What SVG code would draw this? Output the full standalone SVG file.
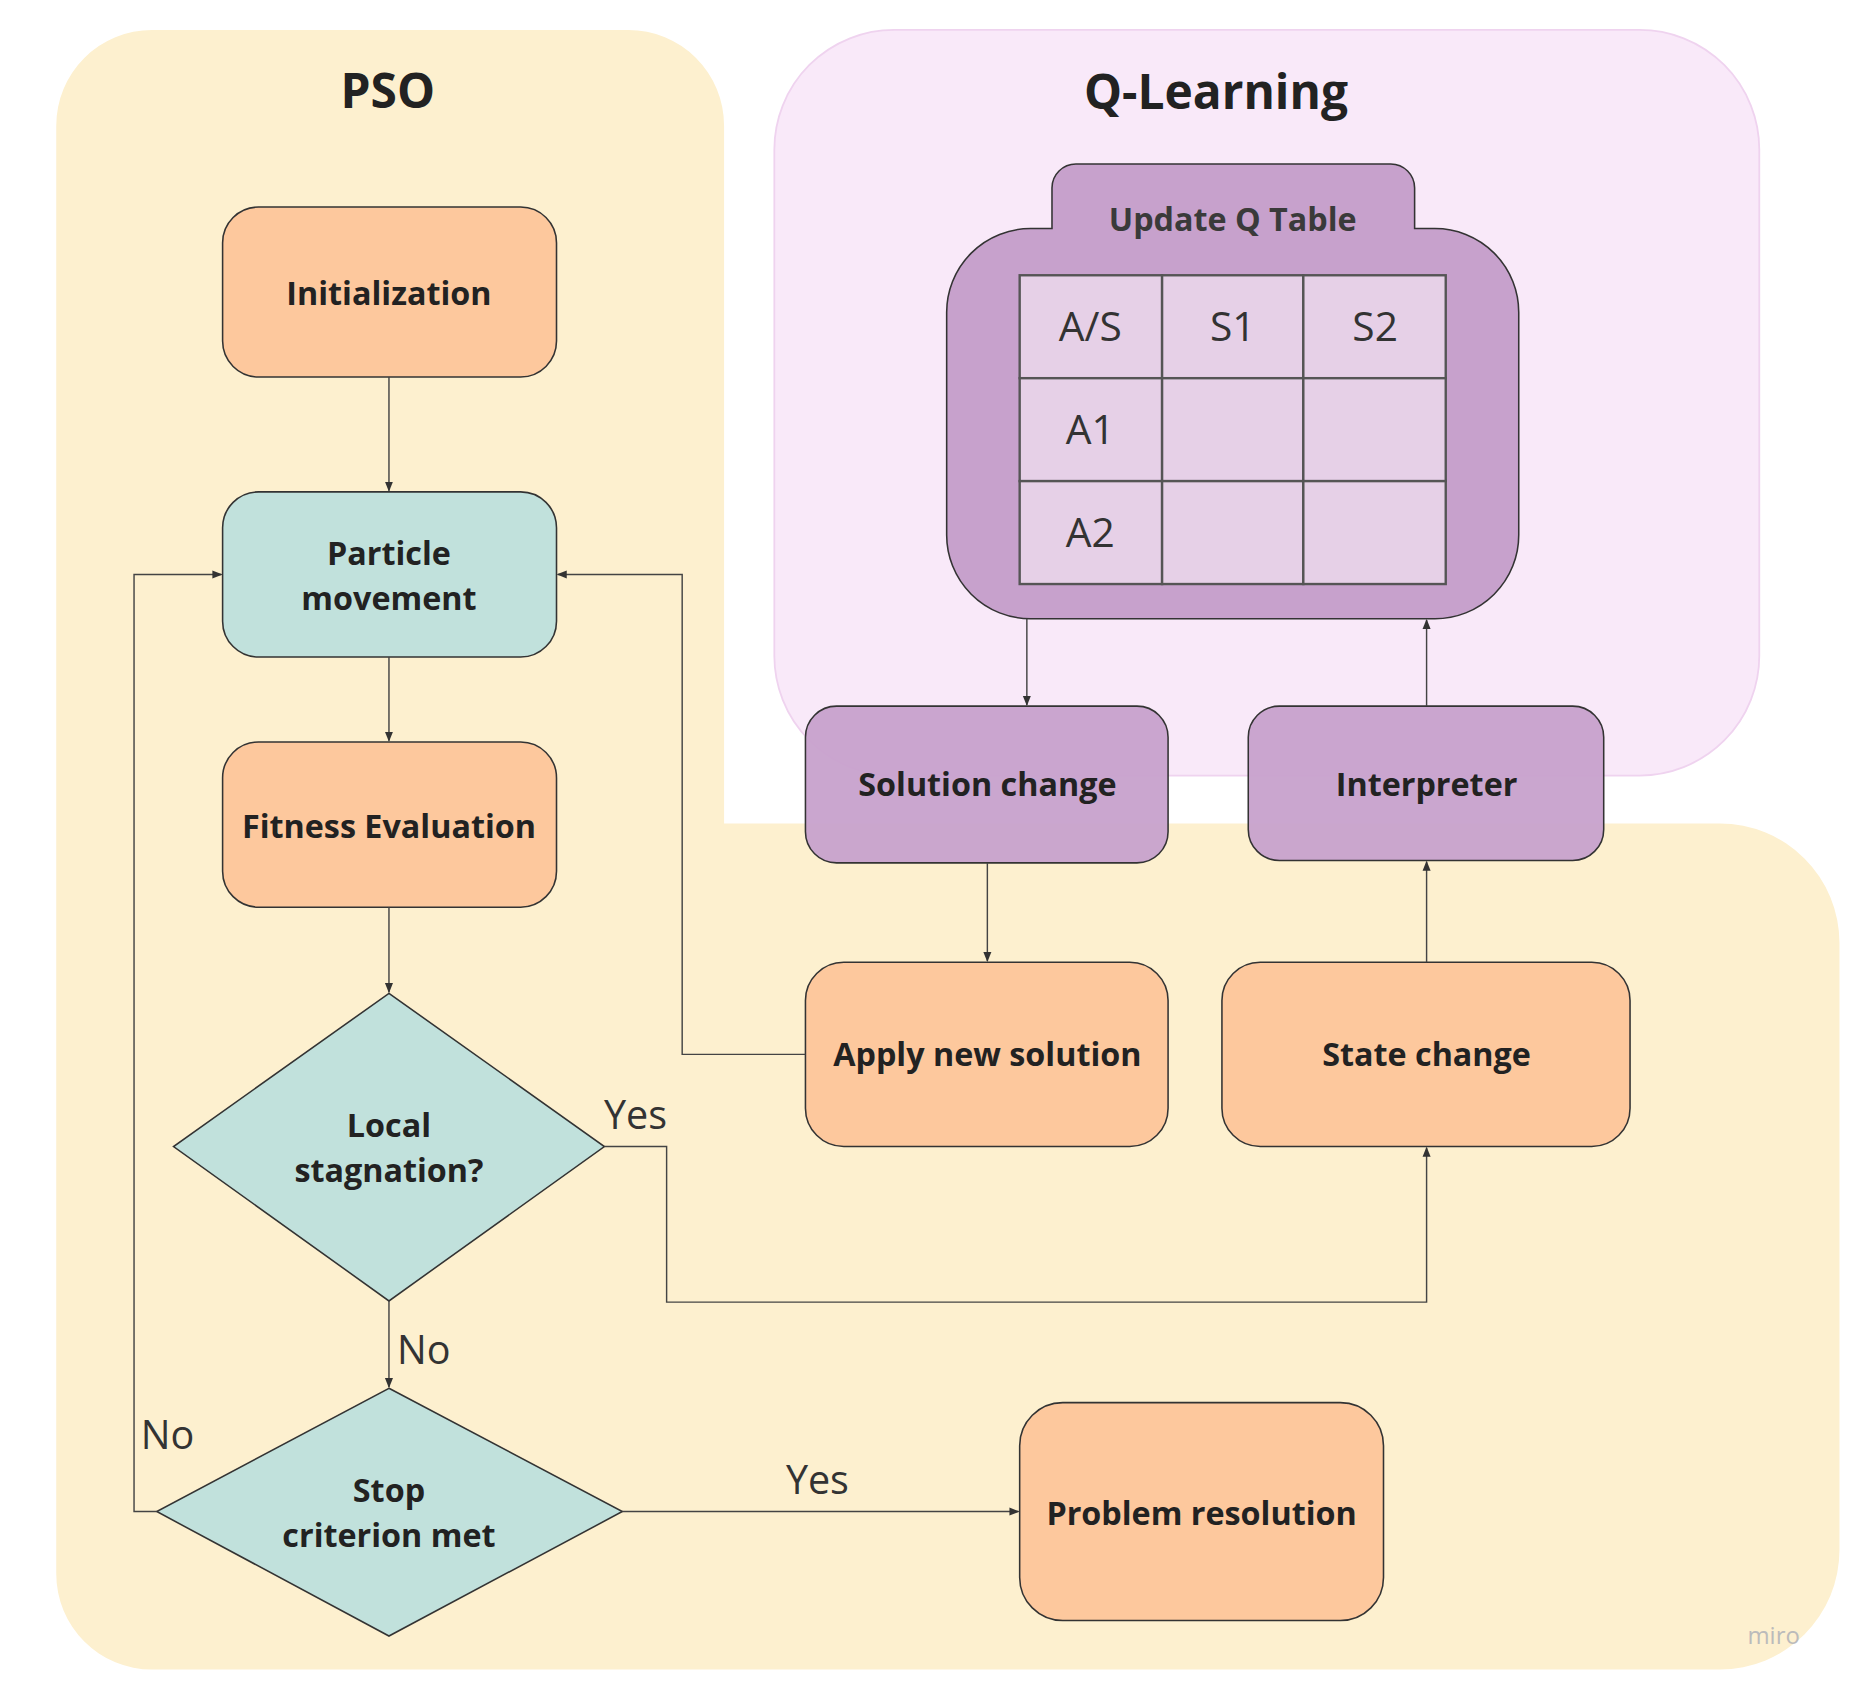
<svg xmlns="http://www.w3.org/2000/svg" width="1855" height="1681" viewBox="0 0 1855 1681">
<defs>
<style>
.n{stroke:#333;stroke-width:1.3}
.o{fill:#fdc89d}.t{fill:#c1e1dc}.p{fill:#c7a1cc}
.l{font-family:"Open Sans","Noto Sans",sans-serif;font-weight:bold;font-size:27px;fill:#222;text-anchor:middle}
.r{font-family:"Open Sans","Noto Sans",sans-serif;font-size:34px;fill:#333;text-anchor:middle}
.c{fill:none;stroke:#444;stroke-width:1.2}
.cell{fill:#e6d0e7;stroke:#555;stroke-width:2}
</style>
<marker id="a" viewBox="0 0 10 10" refX="9" refY="5" markerWidth="7" markerHeight="7" orient="auto"><path d="M0,1 L10,5 L0,9 z" fill="#333"/></marker>
</defs>
<rect width="1855" height="1681" fill="#fff"/>
<g transform="scale(1.1968)">
<g id="bg">
<path d="M127,25 H525 A80,80 0 0 1 605,105 V688 H1437 A100,100 0 0 1 1537,788 V1295 A100,100 0 0 1 1437,1395 H127 A80,80 0 0 1 47,1315 V105 A80,80 0 0 1 127,25 Z" fill="#fdf0cf"/>
<rect x="647" y="25" width="823" height="623" rx="100" fill="#f9e9f9" stroke="#efd3ef" stroke-width="1.5"/>
<text x="324" y="90" class="l" style="font-size:40px">PSO</text>
<text x="1016" y="91" class="l" style="font-size:40px">Q-Learning</text>
<text x="1482" y="1374" style="font-family:'Open Sans',sans-serif;font-size:20px;fill:#bbb;text-anchor:middle">miro</text>
</g>
<g id="qtable">
<path d="M899,137 H1162 A20,20 0 0 1 1182,157 V191 H1199 A70,70 0 0 1 1269,261 V447 A70,70 0 0 1 1199,517 H861 A70,70 0 0 1 791,447 V261 A70,70 0 0 1 861,191 H879 V157 A20,20 0 0 1 899,137 Z" fill="#c7a1cc" stroke="#333" stroke-width="1.3"/>
<text x="1030" y="193" class="l" style="fill:#3a3a3a">Update Q Table</text>
<rect class="cell" x="852" y="230" width="119" height="86"/><rect class="cell" x="971" y="230" width="118" height="86"/><rect class="cell" x="1089" y="230" width="119" height="86"/>
<rect class="cell" x="852" y="316" width="119" height="86"/><rect class="cell" x="971" y="316" width="118" height="86"/><rect class="cell" x="1089" y="316" width="119" height="86"/>
<rect class="cell" x="852" y="402" width="119" height="86"/><rect class="cell" x="971" y="402" width="118" height="86"/><rect class="cell" x="1089" y="402" width="119" height="86"/>
<text x="911" y="285" class="r">A/S</text><text x="1030" y="285" class="r">S1</text><text x="1149" y="285" class="r">S2</text>
<text x="911" y="371" class="r">A1</text><text x="911" y="457" class="r">A2</text>
</g>
<g id="init"><rect class="n o" x="186" y="173" width="279" height="142" rx="30"/><text x="325" y="255" class="l">Initialization</text></g>
<g id="particle"><rect class="n t" x="186" y="411" width="279" height="138" rx="30"/><text x="325" y="472" class="l">Particle</text><text x="325" y="510" class="l">movement</text></g>
<g id="fitness"><rect class="n o" x="186" y="620" width="279" height="138" rx="30"/><text x="325" y="700" class="l">Fitness Evaluation</text></g>
<g id="local"><path class="n t" d="M325,830 L505,958 L325,1087 L145,958 Z"/><text x="325" y="950" class="l">Local</text><text x="325" y="988" class="l">stagnation?</text></g>
<g id="stop"><path class="n t" d="M325,1160 L520,1263 L325,1367 L131,1263 Z"/><text x="325" y="1255" class="l">Stop</text><text x="325" y="1293" class="l">criterion met</text></g>
<g id="solution"><rect class="n p" x="673" y="590" width="303" height="131" rx="26" fill-opacity="0.95"/><text x="825" y="665" class="l">Solution change</text></g>
<g id="interp"><rect class="n p" x="1043" y="590" width="297" height="129" rx="26" fill-opacity="0.95"/><text x="1192" y="665" class="l">Interpreter</text></g>
<g id="apply"><rect class="n o" x="673" y="804" width="303" height="154" rx="32"/><text x="825" y="891" class="l">Apply new solution</text></g>
<g id="state"><rect class="n o" x="1021" y="804" width="341" height="154" rx="32"/><text x="1192" y="891" class="l">State change</text></g>
<g id="problem"><rect class="n o" x="852" y="1172" width="304" height="182" rx="36"/><text x="1004" y="1274" class="l">Problem resolution</text></g>
<g id="connectors">
<path class="c" marker-end="url(#a)" d="M325,315 V410"/>
<path class="c" marker-end="url(#a)" d="M325,549 V619"/>
<path class="c" marker-end="url(#a)" d="M325,758 V829"/>
<path class="c" marker-end="url(#a)" d="M325,1087 V1159"/>
<path class="c" marker-end="url(#a)" d="M131,1263 H112 V480 H185"/>
<path class="c" marker-end="url(#a)" d="M520,1263 H851"/>
<path class="c" marker-end="url(#a)" d="M505,958 H557 V1088 H1192 V959"/>
<path class="c" marker-end="url(#a)" d="M673,881 H570 V480 H466"/>
<path class="c" marker-end="url(#a)" d="M858,517 V589"/>
<path class="c" marker-end="url(#a)" d="M1192,590 V518"/>
<path class="c" marker-end="url(#a)" d="M825,721 V803"/>
<path class="c" marker-end="url(#a)" d="M1192,804 V720"/>
<text x="354" y="1140" class="r" style="font-size:33px">No</text>
<text x="140" y="1211" class="r" style="font-size:33px">No</text>
<text x="531" y="943" class="r" style="font-size:33px">Yes</text>
<text x="683" y="1248" class="r" style="font-size:33px">Yes</text>
</g>
</g>
</svg>
